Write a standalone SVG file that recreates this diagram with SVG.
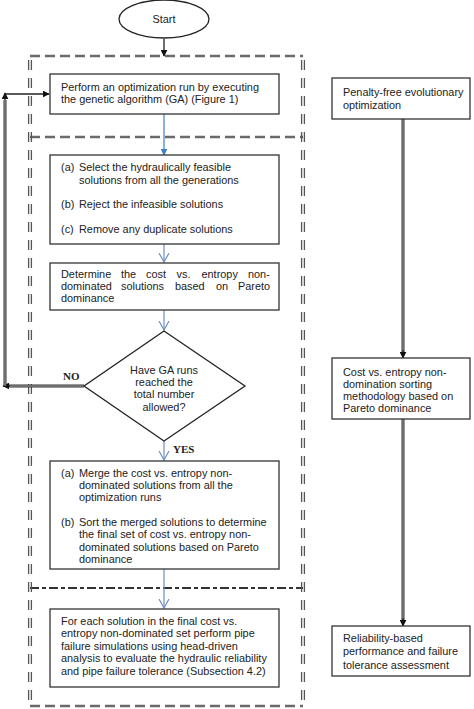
<svg xmlns="http://www.w3.org/2000/svg" width="474" height="709" viewBox="0 0 474 709">
<style>
text{font-family:"Liberation Sans",Arial,sans-serif;font-size:10.9px;fill:#222}
.lbl{font-family:"Liberation Serif","Times New Roman",serif;font-weight:bold;font-size:11px;fill:#222}
.box{fill:#fff;stroke:#333;stroke-width:1.3}
.dh{fill:none;stroke:#6a6a6a;stroke-width:2.6;stroke-dasharray:10,5}
.dv{fill:none;stroke:#555;stroke-width:1.3;stroke-dasharray:10,8}
.dashk{fill:none;stroke:#333;stroke-width:2;stroke-dasharray:9,3,4,3}
.blue{fill:none;stroke:#3f7fc4;stroke-width:1.2}
.blue2{fill:none;stroke:#6d8fc0;stroke-width:1.2}
.dbl{fill:none;stroke:#333;stroke-width:3}
.dblin{fill:none;stroke:#aaa;stroke-width:1}
.blk{fill:none;stroke:#222;stroke-width:1.3}
</style>
<defs>
<marker id="ah" viewBox="0 0 10 10" refX="9" refY="5" markerWidth="7" markerHeight="7" markerUnits="userSpaceOnUse" orient="auto"><path d="M0,0 L10,5 L0,10 z" fill="#111"/></marker>
<marker id="ahb" viewBox="0 0 10 10" refX="9" refY="5" markerWidth="7" markerHeight="7" markerUnits="userSpaceOnUse" orient="auto"><path d="M0,0 L10,5 L0,10 z" fill="#3f7fc4"/></marker>
<marker id="aho" viewBox="0 0 10 10" refX="9" refY="5" markerWidth="10" markerHeight="12" markerUnits="userSpaceOnUse" orient="auto"><path d="M0,0 L9,5 L0,10" fill="none" stroke="#6d8fc0" stroke-width="1.2"/></marker>
</defs>

<g id="groups">
<path class="dh" d="M30,56 L303,56"/>
<path class="dh" d="M30,137 L303,137"/>
<path class="dashk" d="M30,588 L303,588"/>
<path class="dh" d="M30,706 L303,706"/>
<path class="dv" d="M28.6,60 L28.6,708 M31.4,60 L31.4,708"/>
<path class="dv" d="M301.6,60 L301.6,706 M304.4,60 L304.4,706"/>
</g>

<g id="connectors">
<line class="blk" x1="164" y1="39" x2="164" y2="56" marker-end="url(#ah)"/>
<line class="blue" x1="164" y1="114" x2="164" y2="155" marker-end="url(#ahb)"/>
<line class="blue2" x1="164" y1="244" x2="164" y2="262" marker-end="url(#aho)"/>
<line class="blue2" x1="164" y1="310" x2="164" y2="330" marker-end="url(#aho)"/>
<line class="blue2" x1="164" y1="441" x2="164" y2="460" marker-end="url(#aho)"/>
<line class="blue2" x1="164" y1="569" x2="164" y2="608" marker-end="url(#aho)"/>
<path class="dbl" d="M84,386 L8,386"/>
<path class="dblin" d="M84,386 L8,386"/>
<line class="blk" x1="10" y1="386" x2="3" y2="386" marker-end="url(#ah)"/>
<path class="dbl" d="M5,386 L5,100"/>
<path class="dblin" d="M5,386 L5,100"/>
<line class="blk" x1="5" y1="100" x2="5" y2="93" marker-end="url(#ah)"/>
<line class="blk" x1="5" y1="94" x2="49" y2="94" marker-end="url(#ah)"/>
<text class="lbl" x="63" y="380">NO</text>
<text class="lbl" x="173" y="453">YES</text>
<path class="dbl" d="M403,119 L403,352"/>
<path class="dblin" d="M403,119 L403,352"/>
<line class="blk" x1="403" y1="350" x2="403" y2="358" marker-end="url(#ah)"/>
<path class="dbl" d="M403,419 L403,620"/>
<path class="dblin" d="M403,419 L403,620"/>
<line class="blk" x1="403" y1="618" x2="403" y2="626" marker-end="url(#ah)"/>
</g>

<g id="start">
<ellipse cx="164" cy="19" rx="45" ry="19" fill="#fff" stroke="#222" stroke-width="1.3"/>
<text x="164" y="23" text-anchor="middle">Start</text>
</g>

<g id="run">
<rect class="box" x="50" y="74" width="229" height="40"/>
<text x="61" y="91">Perform an optimization run by executing</text>
<text x="61" y="103">the genetic algorithm (GA) (Figure 1)</text>
</g>

<g id="select">
<rect class="box" x="50" y="155" width="229" height="89"/>
<text x="61" y="171">(a)</text><text x="79" y="171">Select the hydraulically feasible</text>
<text x="79" y="184">solutions from all the generations</text>
<text x="61" y="208">(b)</text><text x="79" y="208">Reject the infeasible solutions</text>
<text x="61" y="233">(c)</text><text x="79" y="233">Remove any duplicate solutions</text>
</g>

<g id="determine">
<rect class="box" x="50" y="263" width="229" height="47"/>
<text y="278"><tspan x="61">Determine</tspan><tspan x="121">the</tspan><tspan x="146">cost</tspan><tspan x="176.5">vs.</tspan><tspan x="201.5">entropy</tspan><tspan x="248">non-</tspan></text>
<text y="290"><tspan x="61">dominated</tspan><tspan x="121">solutions</tspan><tspan x="175">based</tspan><tspan x="216">on</tspan><tspan x="238">Pareto</tspan></text>
<text x="61" y="302">dominance</text>
</g>

<g id="decision">
<polygon points="164,331 245,386 164,441 84,386" fill="#fff" stroke="#222" stroke-width="1.3"/>
<text x="164" y="374" text-anchor="middle">Have GA runs</text>
<text x="164" y="386" text-anchor="middle">reached the</text>
<text x="164" y="398" text-anchor="middle">total number</text>
<text x="164" y="411" text-anchor="middle">allowed?</text>
</g>

<g id="merge">
<rect class="box" x="50" y="461" width="229" height="108"/>
<text x="61" y="477">(a)</text><text x="79" y="477">Merge the cost vs. entropy non-</text>
<text x="79" y="489">dominated solutions from all the</text>
<text x="79" y="501">optimization runs</text>
<text x="61" y="526">(b)</text><text x="79" y="526">Sort the merged solutions to determine</text>
<text x="79" y="538">the final set of cost vs. entropy non-</text>
<text x="79" y="551">dominated solutions based on Pareto</text>
<text x="79" y="563">dominance</text>
</g>

<g id="simulate">
<rect class="box" x="50" y="609" width="229" height="78"/>
<text x="61" y="625">For each solution in the final cost vs.</text>
<text x="61" y="637">entropy non-dominated set perform pipe</text>
<text x="61" y="650">failure simulations using head-driven</text>
<text x="61" y="662">analysis to evaluate the hydraulic reliability</text>
<text x="61" y="675">and pipe failure tolerance (Subsection 4.2)</text>
</g>

<g id="penalty">
<rect class="box" x="332" y="78" width="138" height="41"/>
<text x="343" y="96">Penalty-free evolutionary</text>
<text x="343" y="109">optimization</text>
</g>

<g id="sorting">
<rect class="box" x="332" y="358" width="138" height="61"/>
<text x="343" y="376">Cost vs. entropy non-</text>
<text x="343" y="388">domination sorting</text>
<text x="343" y="400">methodology based on</text>
<text x="343" y="412">Pareto dominance</text>
</g>

<g id="reliability">
<rect class="box" x="332" y="626" width="138" height="50"/>
<text x="343" y="642">Reliability-based</text>
<text x="343" y="655">performance and failure</text>
<text x="343" y="669">tolerance assessment</text>
</g>
</svg>
